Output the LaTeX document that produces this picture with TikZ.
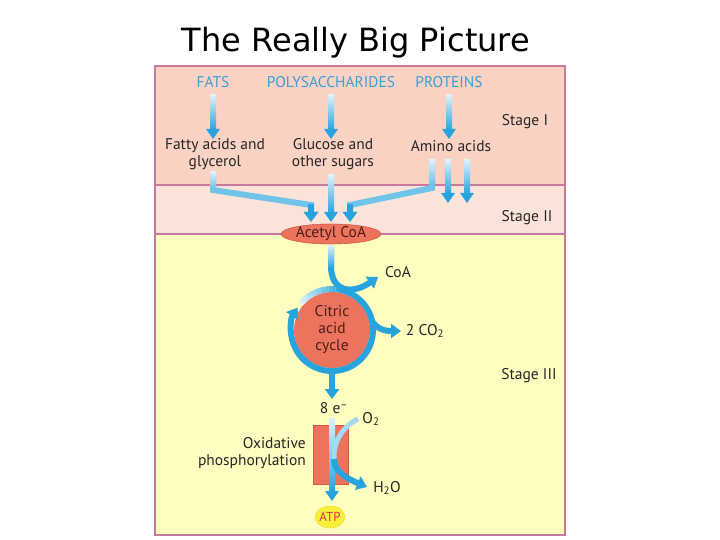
\documentclass[tikz,border=0pt]{standalone}
\usepackage{fontspec}
\setmainfont{PT Sans}
\newfontfamily\titlefont{DejaVu Sans}
\usetikzlibrary{calc,arrows.meta,shapes.geometric}
\definecolor{stageone}{HTML}{FAD2C4}
\definecolor{stagetwo}{HTML}{FCE3DA}
\definecolor{stagethree}{HTML}{FFFDBF}
\definecolor{framec}{HTML}{C8799D}
\definecolor{fblue}{HTML}{27A4DE}
\definecolor{flight}{HTML}{DDF1FA}
\definecolor{labblue}{HTML}{3D9FD8}
\definecolor{txt}{HTML}{262626}
\definecolor{cyctxt}{HTML}{4A1F16}
\definecolor{redfill}{HTML}{EC735E}
\definecolor{redline}{HTML}{C8473A}
\definecolor{atpyellow}{HTML}{F7EF3A}
\definecolor{atptext}{HTML}{D7355C}
\newcommand\vgrad[2]{%
  \shade[top color=flight,bottom color=fblue] ($(#1)+(-3,0)$) rectangle ($(#2)+(3,-9)$);
  \fill[fblue] ($(#2)+(-7,-10)$) -- ($(#2)+(7,-10)$) -- (#2) -- cycle;}
\tikzset{
  lab/.style={text=txt, font=\fontsize{15.5}{17}\selectfont, inner sep=0pt, align=center},
  toplab/.style={text=labblue, font=\fontsize{15.5}{17}\selectfont, inner sep=0pt},
  tipc/.style={-{Triangle[width=14pt,length=10pt]}},
  flow/.style={draw=fblue, line width=6pt, tipc},
  bentc/.style={draw=fblue!60!flight, line width=6pt, line join=miter, tipc},
}
\begin{document}
\begin{tikzpicture}[x=1pt,y=-1pt]
\useasboundingbox (0,0) rectangle (720,540);
\fill[white] (0,0) rectangle (720,540);
% title
\node[font=\titlefont\fontsize{32}{36}\selectfont, inner sep=0pt] (title) at (356,43) {The Really Big Picture};
% bands
\fill[stageone] (155,66) rectangle (565,185);
\fill[stagetwo] (155,185) rectangle (565,234);
\fill[stagethree] (155,234) rectangle (565,535);
\draw[framec, line width=1.2pt] (155,185) -- (565,185) (155,234) -- (565,234);
\draw[framec, line width=1.2pt] (155,66) rectangle (565,535);
% stage labels
\node[lab] (s1) at (525,122) {Stage I};
\node[lab] (s2) at (527,218) {Stage II};
\node[lab] (s3) at (529,376) {Stage III};
% top labels
\node[toplab] (fats) at (213,82) {FATS};
\node[toplab] (poly) at (331,82) {POLYSACCHARIDES};
\node[toplab] (prot) at (449,82) {PROTEINS};
\node[lab] (fatty) at (215,154.5) {Fatty acids and\\glycerol};
\node[lab] (gluc) at (333,154.5) {Glucose and\\other sugars};
\node[lab] (amino) at (451,146) {Amino acids};
% stage I arrows
\coordinate (f1) at (213,95); \coordinate (f2) at (213,139);
\coordinate (p1) at (331,95); \coordinate (p2) at (331,139);
\coordinate (r1) at (449,95); \coordinate (r2) at (449,139);
\vgrad{f1}{f2}
\vgrad{p1}{p2}
\vgrad{r1}{r2}
% stage II arrows
\draw[bentc] (213,172) -- (213,190) -- (311,205) -- (311,222);
\draw[flow] (311,204) -- (311,222);
\shade[top color=flight,bottom color=fblue!60!flight] (210,172) rectangle (216,188);
\draw[bentc] (432,160) -- (432,188) -- (350,205) -- (350,222);
\draw[flow] (350,204) -- (350,222);
\shade[top color=flight,bottom color=fblue!60!flight] (429,160) rectangle (435,184);
\coordinate (g1) at (331,175); \coordinate (g2) at (331,222);
\vgrad{g1}{g2}
\coordinate (a1) at (448,160); \coordinate (a2) at (448,203);
\coordinate (b1) at (467,160); \coordinate (b2) at (467,203);
\vgrad{a1}{a2}
\vgrad{b1}{b2}
% acetyl CoA
\node[ellipse, draw=redline, fill=redfill, minimum width=100pt, minimum height=19pt, inner sep=0pt, lab, text=cyctxt] (acetyl) at (331,234) {Acetyl CoA};
% citric acid cycle
\fill[redfill] (332,330) circle (38);
\node[lab, text=cyctxt, font=\fontsize{15.5}{17}\selectfont] (cycle) at (332,330) {Citric\\acid\\cycle};
\foreach \i in {0,...,11}{
  \pgfmathsetmacro\mx{\i*8}
  \draw[line width=6pt, draw=fblue!\mx!flight] (332,330) ++(-140+5*\i:41) arc[start angle=-140+5*\i, end angle=-135+5*\i, radius=41];
}
\draw[line width=6pt, draw=fblue, -{Triangle[width=14pt,length=10pt]}] (332,330) ++(-80:41) arc[start angle=-80, end angle=213, radius=41];
% acetyl -> CoA
\node[lab] (coa) at (398,272) {CoA};
\draw[flow] (331,246) -- (331,266) .. controls (331,292) and (352,295) .. (378,277);
\shade[top color=flight,bottom color=fblue] (328,245) rectangle (334,268);
% CO2
\node[lab] (co2) at (425,331) {2 CO\textsubscript{2}};
\draw[flow] (371,320) .. controls (378,330) and (385,331) .. (401,331);
% down to 8e
\draw[flow] (332,370) -- (332,399);
\node[lab] (eight) at (334,408) {8 e\textsuperscript{–}};
% oxidative phosphorylation
\fill[redfill, draw=redline!60!redfill] (313,425) rectangle (348,484);
\coordinate (o1) at (332,418); \coordinate (o2) at (332,501);
\vgrad{o1}{o2}
\node[lab] (o2lab) at (371,419) {O\textsubscript{2}};
\draw[line width=5pt, draw=fblue!30!flight] (358,419) .. controls (340,428) and (333,445) .. (334,460);
\draw[flow] (334,459) .. controls (334,472) and (348,479) .. (367,487);
\node[lab] (h2o) at (387,488) {H\textsubscript{2}O};
\node[lab, anchor=east, align=right] (oxphos) at (306,453.5) {Oxidative\\phosphorylation};
% ATP
\node[ellipse, fill=atpyellow, draw=atpyellow!80!orange, minimum width=30pt, minimum height=22pt, inner sep=0pt, text=atptext, font=\fontsize{13}{14}\selectfont] (atp) at (330,517) {ATP};
\end{tikzpicture}
\end{document}
